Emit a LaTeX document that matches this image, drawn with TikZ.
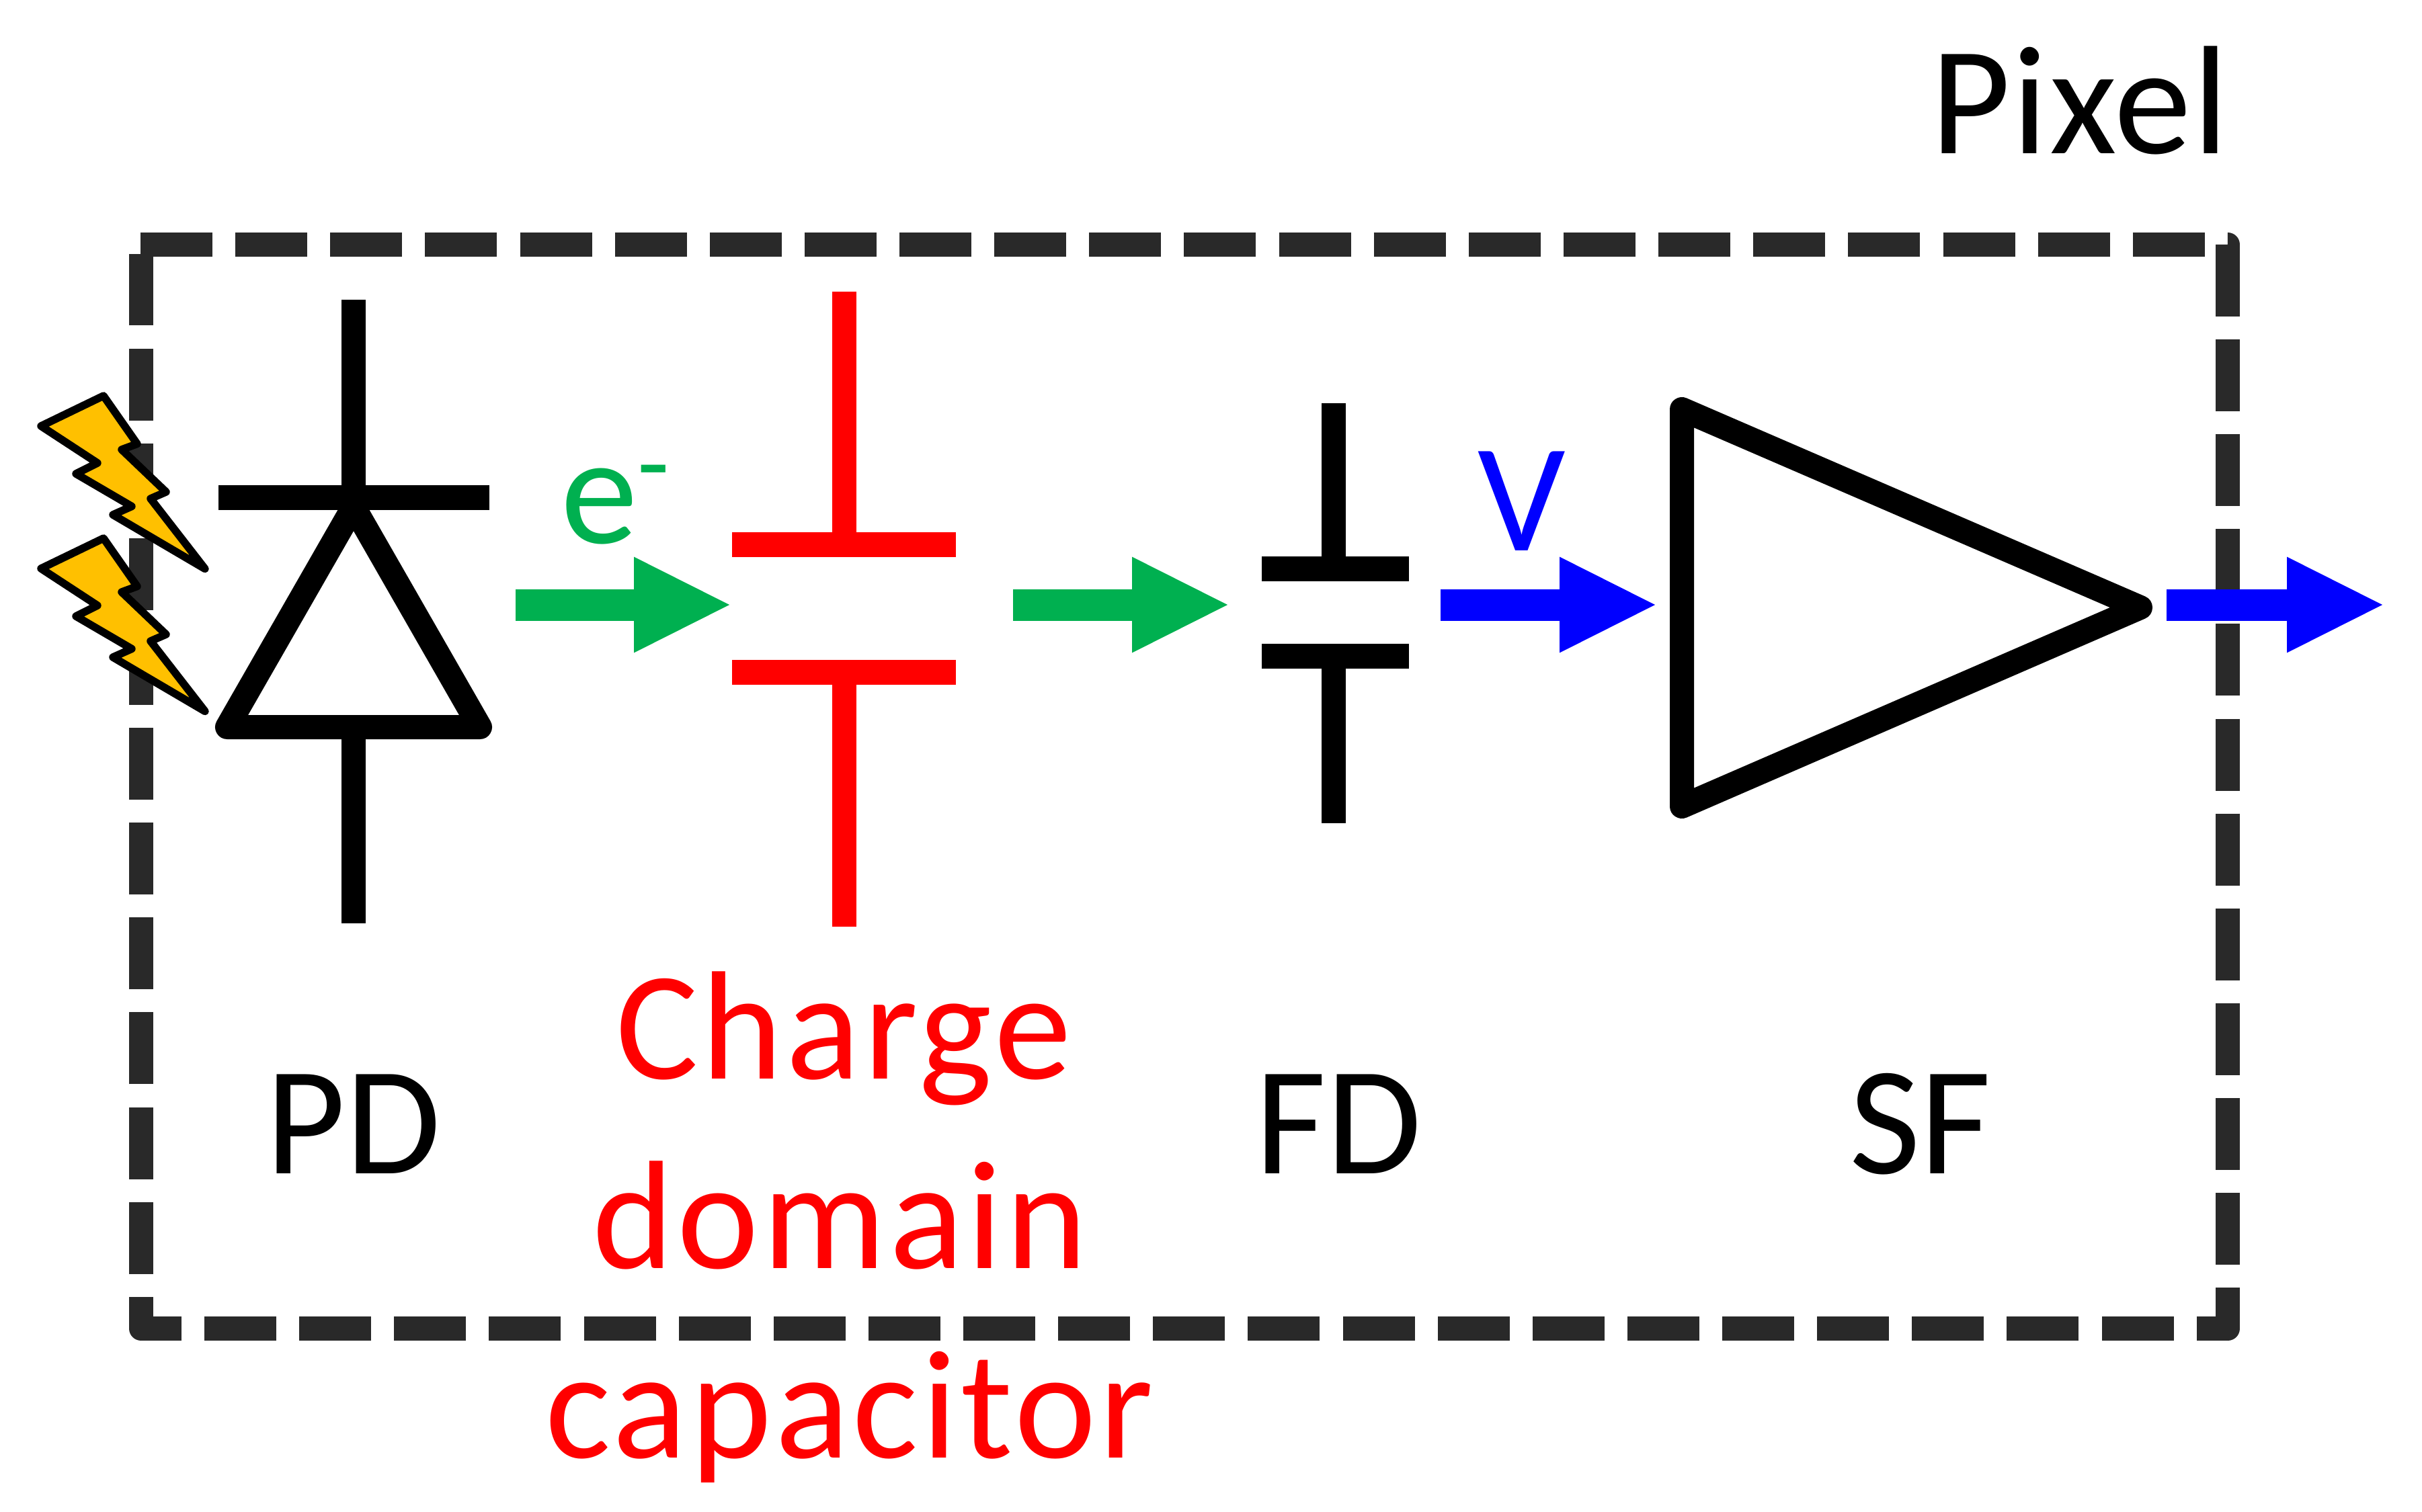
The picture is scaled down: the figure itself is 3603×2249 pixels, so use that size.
\documentclass[tikz,border=0pt]{standalone}
\usepackage{fontspec}
\setmainfont{Carlito}
\newfontfamily\redface{Carlito}[LetterSpace=2.3]
\newfontfamily\wideface{Carlito}[LetterSpace=1.2]
\usetikzlibrary{arrows.meta}
\definecolor{dashc}{HTML}{292929}
\definecolor{flow}{HTML}{00B050}
\definecolor{bolt}{HTML}{FFC000}
\definecolor{sig}{HTML}{0000FF}
\definecolor{capred}{HTML}{FF0000}
\tikzset{
  lbl/.style={inner sep=0pt,outer sep=0pt,anchor=base,font=\fontsize{230}{282}\selectfont},
  frame/.style={draw=dashc,line width=36pt,line join=round,dash pattern=on 107pt off 34.13pt},
  wire/.style={line width=36pt},
  plate/.style={line width=37pt},
  sym/.style={line width=36pt,line join=round},
  blockarrow/.style={line width=47pt,-{Triangle[length=146pt 0 0,width=131pt 0 0]}},
  lightning/.style={draw=black,fill=bolt,line width=11.5pt,line join=round}
}
\begin{document}
\begin{tikzpicture}[x=1pt,y=-1pt]
\useasboundingbox (0,0) rectangle (3603,2249);
% pixel frame
\draw[frame] (209,364) -- (3314,364) -- (3314,1977) -- (210,1977) -- (210,378);
% photodiode
\draw[wire] (526,446) -- (526,740);
\draw[plate] (325,740.5) -- (728,740.5);
\draw[sym] (526,754) -- (714,1082) -- (338,1082) -- cycle;
\draw[wire] (526,1082) -- (526,1374);
% light
\foreach \dy in {0,212}{
\draw[lightning,yshift=-\dy pt] (61,634) -- (154,589) -- (204,660.5) -- (181,669) -- (247,732) -- (224,742) -- (305,846.5) -- (168,766) -- (196,753.5) -- (113,705) -- (145,689) -- cycle;
}
% charge domain capacitor
\draw[capred,wire] (1256,434) -- (1256,810);
\draw[capred,plate] (1089,810.5) -- (1422,810.5);
\draw[capred,plate] (1089,1000.5) -- (1422,1000.5);
\draw[capred,wire] (1256,1000) -- (1256,1379);
% floating diffusion
\draw[wire] (1984,600) -- (1984,846);
\draw[plate] (1877,846.5) -- (2096,846.5);
\draw[plate] (1877,976.5) -- (2096,976.5);
\draw[wire] (1984,976) -- (1984,1225);
% source follower
\draw[sym] (2502,609) -- (3184,904) -- (2502,1200) -- cycle;
% arrows
\coordinate (g1a) at (767,900);  \coordinate (g1b) at (1089,900);
\coordinate (g2a) at (1507,900); \coordinate (g2b) at (1830,900);
\coordinate (b1a) at (2143,900); \coordinate (b1b) at (2466,900);
\coordinate (b2a) at (3223,900); \coordinate (b2b) at (3548,900);
\draw[blockarrow,draw=flow,fill=flow] (g1a) -- (g1b);
\draw[blockarrow,draw=flow,fill=flow] (g2a) -- (g2b);
\draw[blockarrow,draw=sig,fill=sig] (b1a) -- (b1b);
\draw[blockarrow,draw=sig,fill=sig] (b2a) -- (b2b);
% labels
\node[lbl] (pixel) at (3094,228) {\wideface\fontsize{230}{282}\selectfont Pixel};
\node[lbl] (pd) at (526,1746) {PD};
\node[lbl] (fd) at (1991,1746) {FD};
\node[lbl] (sf) at (2857,1746) {SF};
\node[lbl,text=sig] (v) at (2264,819) {V};
\node[lbl,text=flow,anchor=base west] (e) at (834,808) {e\raisebox{67pt}{\fontsize{155}{155}\selectfont -}};
\node[lbl,text=capred] (l1) at (1255,1605) {\redface\fontsize{230}{282}\selectfont Charge};
\node[lbl,text=capred] (l2) at (1250,1887) {\redface\fontsize{230}{282}\selectfont domain};
\node[lbl,text=capred] (l3) at (1264,2169) {\redface\fontsize{230}{282}\selectfont capacitor};
\end{tikzpicture}
\end{document}
